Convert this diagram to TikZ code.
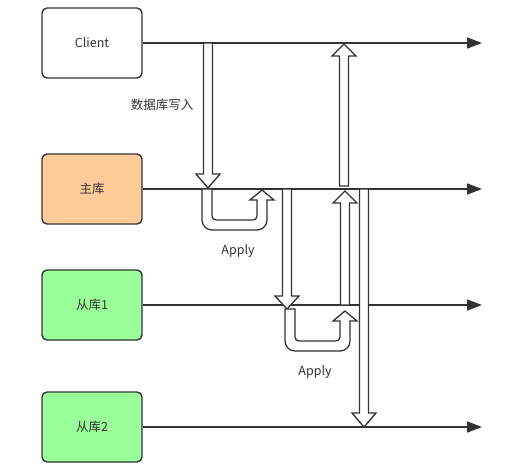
\documentclass[tikz,border=0pt]{standalone}
\usepackage{fontspec}
\setmainfont{Noto Sans CJK SC}
\usetikzlibrary{arrows.meta}
\definecolor{ln}{HTML}{333333}
\definecolor{mfill}{HTML}{FFCC99}
\definecolor{sfill}{HTML}{99FF99}
\tikzset{
  box/.style={draw=ln, line width=1.4pt, rounded corners=5pt, minimum width=100pt, minimum height=70pt, text=ln, font=\fontsize{12.5}{15}\selectfont},
  hline/.style={draw=ln, line width=1.8pt, -{Triangle[length=15pt,width=11pt]}},
  blk/.style={draw=ln, line width=1.3pt, fill=white, line join=miter},
  lbl/.style={text=ln, font=\fontsize{12.5}{15}\selectfont},
}
\newcommand\blkv[4]{%
  \draw[blk] ({#1-4.5},#2) -- ({#1-4.5},#4) -- ({#1-12},#4) -- (#1,#3) -- ({#1+12},#4) -- ({#1+4.5},#4) -- ({#1+4.5},#2) -- cycle;}
\newcommand\uarr[5]{%
  \draw[blk] ({#1-5},#2) -- ({#1-5},{#4-10}) .. controls ({#1-5},{#4-4.5}) and ({#1-0.5},#4) .. ({#1+5},#4)
   -- ({#3-5},#4) .. controls ({#3+0.5},#4) and ({#3+5},{#4-4.5}) .. ({#3+5},{#4-10})
   -- ({#3+5},{#5+10}) -- ({#3+12},{#5+10}) -- (#3,#5) -- ({#3-12},{#5+10}) -- ({#3-5},{#5+10})
   -- ({#3-5},{#4-14}) .. controls ({#3-5},{#4-11.8}) and ({#3-6.8},{#4-10}) .. ({#3-9},{#4-10})
   -- ({#1+9},{#4-10}) .. controls ({#1+6.8},{#4-10}) and ({#1+5},{#4-11.8}) .. ({#1+5},{#4-14})
   -- ({#1+5},#2) -- cycle;}
\begin{document}
\begin{tikzpicture}[x=1pt,y=-1pt]
\useasboundingbox (0,0) rectangle (523,469);
\node[box] (client) at (92,43) {Client};
\node[box, fill=mfill] (master) at (92,189) {主库};
\node[box, fill=sfill] (slave1) at (92,305) {从库1};
\node[box, fill=sfill] (slave2) at (92,427) {从库2};
\coordinate (e1) at (482,43);
\coordinate (e2) at (482,189);
\coordinate (e3) at (482,305);
\coordinate (e4) at (482,427);
\draw[hline] (client.east) -- (e1);
\draw[hline] (master.east) -- (e2);
\draw[hline] (slave1.east) -- (e3);
\draw[hline] (slave2.east) -- (e4);
% block arrows
\blkv{208}{43}{188}{174}
\uarr{207}{189}{262}{230}{190}
\blkv{287}{189}{309}{296}
\blkv{345}{305}{191}{203}
\blkv{344}{186}{44}{56}
\blkv{364}{189}{427}{413}
\uarr{290}{309}{345}{351}{311}
\node[lbl] (write) at (162,105) {数据库写入};
\node[lbl] (apply1) at (238,251) {Apply};
\node[lbl] (apply2) at (315,372) {Apply};
\end{tikzpicture}
\end{document}
